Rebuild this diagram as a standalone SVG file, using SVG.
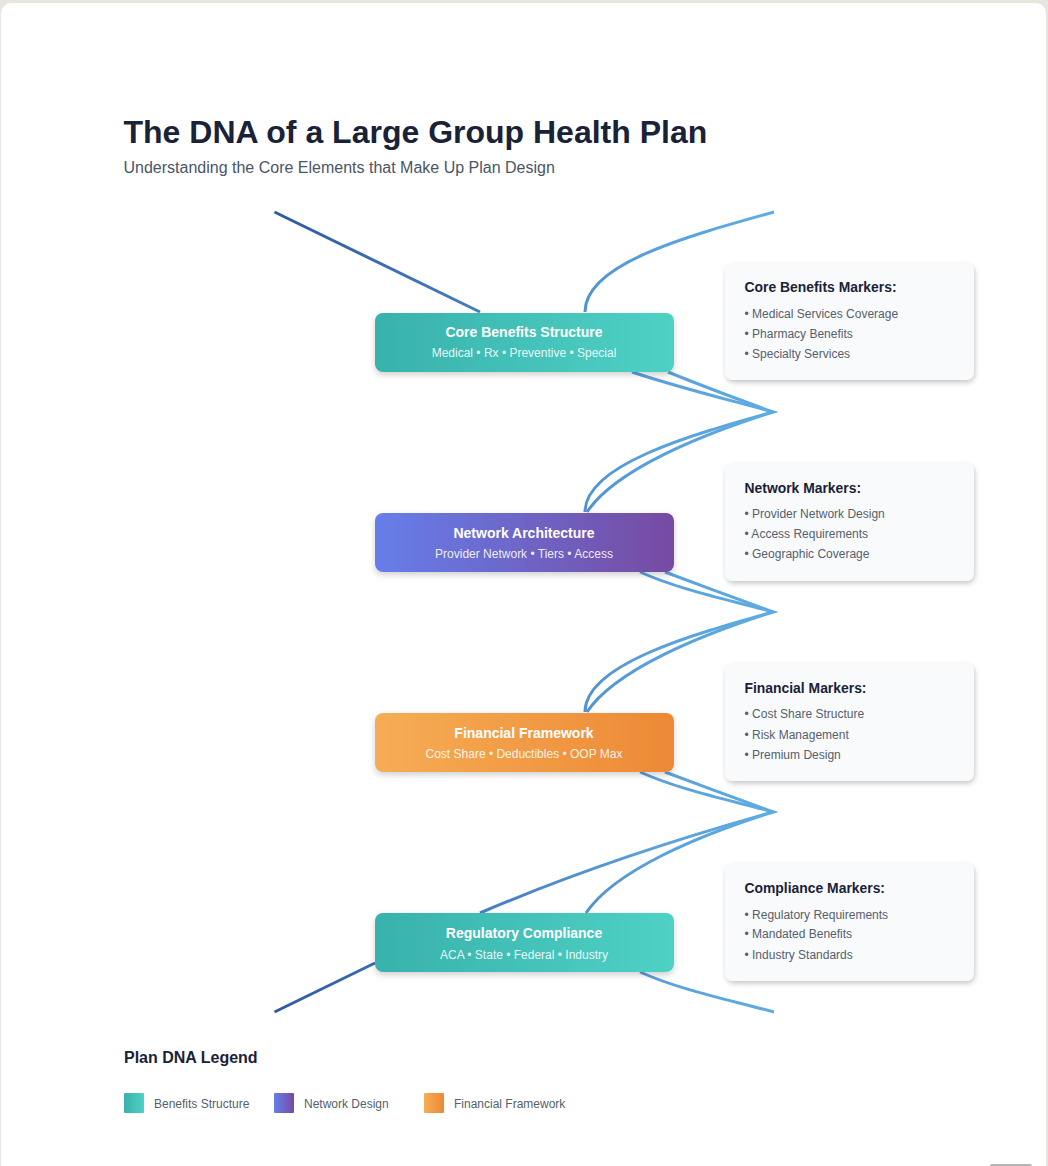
<svg xmlns="http://www.w3.org/2000/svg" width="1048" height="1166" viewBox="0 0 1048 1166">
<style>
text{font-family:"Liberation Sans",Arial,sans-serif}
.t{font-size:14px;font-weight:700;fill:#fff;text-anchor:middle}
.s{font-size:12px;fill:#fff;fill-opacity:.9;text-anchor:middle}
.n{filter:url(#sh)}
.c{fill:#f8fafc;filter:url(#sh2)}
.h{font-size:13.900px;font-weight:700;fill:#1a2238}
.i{font-size:12px;fill:#555f6e}
.l{font-size:12px;fill:#555f6e}
.st{fill:none;stroke:url(#dna);stroke-width:3;stroke-linejoin:miter;stroke-miterlimit:12}
</style>
<defs>
<linearGradient id="dna" gradientUnits="userSpaceOnUse" x1="274" y1="0" x2="774" y2="0"><stop offset="0" stop-color="#2f5a9e"/><stop offset=".5" stop-color="#4a85c9"/><stop offset=".75" stop-color="#5a9fdc"/><stop offset="1" stop-color="#5dade2"/></linearGradient>
<linearGradient id="g1"><stop offset="0" stop-color="#38b2ac"/><stop offset="1" stop-color="#4fd1c5"/></linearGradient>
<linearGradient id="g2"><stop offset="0" stop-color="#667eea"/><stop offset="1" stop-color="#764ba2"/></linearGradient>
<linearGradient id="g3"><stop offset="0" stop-color="#f6ad55"/><stop offset="1" stop-color="#ed8936"/></linearGradient>
<filter id="sh" x="-10%" y="-20%" width="120%" height="150%"><feDropShadow dx="0" dy="3" stdDeviation="3" flood-color="#000" flood-opacity=".18"/></filter>
<filter id="sh2" x="-10%" y="-10%" width="120%" height="125%"><feDropShadow dx="1" dy="2.500" stdDeviation="2.500" flood-color="#000" flood-opacity=".22"/></filter>
</defs>
<rect width="1048" height="1166" fill="#e8e5de"/>
<rect x="1" y="3" width="1045" height="1175" rx="10" fill="#fff"/>
<rect x="990" y="1164" width="42" height="4" rx="2" fill="#b5b5b5"/>
<text x="123.500" y="143" font-size="32" font-weight="700" fill="#1a2238">The DNA of a Large Group Health Plan</text>
<text x="123.500" y="173" font-size="16" fill="#4a5568">Understanding the Core Elements that Make Up Plan Design</text>
<g id="connectors">
<path class="st" d="M274.500 212 L480 312"/>
<path class="st" d="M774 212 C680 238 585 265 585 312"/>
<path class="st" d="M632 372 C680 388 730 400 773 412 C690 435 585 465 585 512"/>
<path class="st" d="M668 372 C700 385 740 400 773 412 C700 435 615 470 587 512"/>
<path class="st" d="M640 572 C680 590 730 600 773 612 C690 635 585 665 585 712"/>
<path class="st" d="M665 572 C700 585 740 600 773 612 C700 635 615 670 587 712"/>
<path class="st" d="M640 772 C680 790 730 800 773 812 C680 838 580 870 480 913"/>
<path class="st" d="M665 772 C700 785 740 800 773 812 C700 835 615 870 586 913"/>
<path class="st" d="M375 963 L274.500 1012"/>
<path class="st" d="M640 972 C680 990 730 1000 774 1012"/>
</g>
<g id="node-core"><rect class="n" x="375" y="313" width="299" height="59" rx="8" fill="url(#g1)"/><text class="t" x="524" y="337">Core Benefits Structure</text><text class="s" x="524" y="357">Medical • Rx • Preventive • Special</text></g>
<g id="node-network"><rect class="n" x="375" y="513" width="299" height="59" rx="8" fill="url(#g2)"/><text class="t" x="524" y="538">Network Architecture</text><text class="s" x="524" y="558">Provider Network • Tiers • Access</text></g>
<g id="node-financial"><rect class="n" x="375" y="713" width="299" height="59" rx="8" fill="url(#g3)"/><text class="t" x="524" y="738">Financial Framework</text><text class="s" x="524" y="758">Cost Share • Deductibles • OOP Max</text></g>
<g id="node-compliance"><rect class="n" x="375" y="913" width="299" height="59" rx="8" fill="url(#g1)"/><text class="t" x="524" y="938">Regulatory Compliance</text><text class="s" x="524" y="959">ACA • State • Federal • Industry</text></g>
<g id="markers-core"><rect class="c" x="725" y="263" width="249" height="117" rx="8"/><text class="h" x="744.500" y="292">Core Benefits Markers:</text><text class="i" x="744.500" y="318">• Medical Services Coverage</text><text class="i" x="744.500" y="338">• Pharmacy Benefits</text><text class="i" x="744.500" y="358">• Specialty Services</text></g>
<g id="markers-network"><rect class="c" x="725" y="463" width="249" height="118" rx="8"/><text class="h" x="744.500" y="493">Network Markers:</text><text class="i" x="744.500" y="518">• Provider Network Design</text><text class="i" x="744.500" y="538">• Access Requirements</text><text class="i" x="744.500" y="558">• Geographic Coverage</text></g>
<g id="markers-financial"><rect class="c" x="725" y="663" width="249" height="118" rx="8"/><text class="h" x="744.500" y="693">Financial Markers:</text><text class="i" x="744.500" y="718">• Cost Share Structure</text><text class="i" x="744.500" y="739">• Risk Management</text><text class="i" x="744.500" y="759">• Premium Design</text></g>
<g id="markers-compliance"><rect class="c" x="725" y="863" width="249" height="118" rx="8"/><text class="h" x="744.500" y="893">Compliance Markers:</text><text class="i" x="744.500" y="918.500">• Regulatory Requirements</text><text class="i" x="744.500" y="938">• Mandated Benefits</text><text class="i" x="744.500" y="959">• Industry Standards</text></g>
<g id="legend">
<text x="124" y="1063" font-size="16" font-weight="700" fill="#1a2238">Plan DNA Legend</text>
<rect x="124" y="1093" width="20" height="20" rx="1" fill="url(#g1)"/><text class="l" x="154" y="1108">Benefits Structure</text>
<rect x="274" y="1093" width="20" height="20" rx="1" fill="url(#g2)"/><text class="l" x="304" y="1108">Network Design</text>
<rect x="424" y="1093" width="20" height="20" rx="1" fill="url(#g3)"/><text class="l" x="454" y="1108">Financial Framework</text>
</g>
</svg>
